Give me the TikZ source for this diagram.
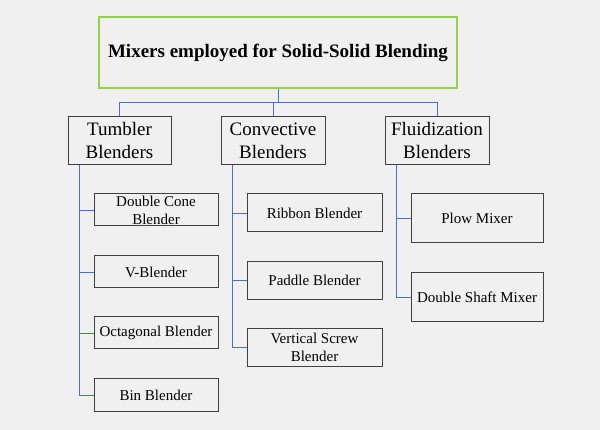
\documentclass[tikz,border=0pt]{standalone}
\usepackage{fontspec}
\setmainfont{Liberation Serif}
\usetikzlibrary{positioning}

\definecolor{paper}{HTML}{F0F0F0}
\definecolor{rootgreen}{HTML}{92D050}
\definecolor{linkblue}{HTML}{4472C4}
\definecolor{boxgray}{HTML}{404040}

\tikzset{
  rootbox/.style={draw=rootgreen, line width=1.6pt, minimum width=358pt,
    minimum height=71pt, font=\fontsize{19}{23}\selectfont\bfseries},
  groupbox/.style={draw=boxgray, line width=1pt, inner sep=0pt, align=center,
    minimum width=104pt, minimum height=48pt, font=\fontsize{19}{23}\selectfont},
  itembox/.style={draw=boxgray, line width=1pt, inner sep=0pt, align=center,
    font=\fontsize{15}{18}\selectfont},
  link/.style={draw=linkblue, line width=0.9pt},
}

\begin{document}
\begin{tikzpicture}[x=1pt,y=-1pt]
  \useasboundingbox[fill=paper] (0,0) rectangle (600,430);

  \node[rootbox] (root) at (278,52.5) {Mixers employed for Solid-Solid Blending};

  \node[groupbox, minimum width=103pt] (tumbler) at (119.5,141) {Tumbler\\Blenders};
  \node[groupbox] (convective) at (273,141) {Convective\\Blenders};
  \node[groupbox] (fluid) at (437,141) {Fluidization\\Blenders};

  \begin{scope}[every node/.style={itembox, minimum width=124pt, minimum height=32pt}]
    \node (dcone) at (156,210) {Double Cone\\Blender};
    \node (vblend) at (156,272) {V-Blender};
    \node (octa) at (156,333) {Octagonal Blender};
    \node (bin) at (156,395) {Bin Blender};
  \end{scope}

  \begin{scope}[every node/.style={itembox, minimum width=135pt, minimum height=38pt}]
    \node (ribbon) at (314.5,213) {Ribbon Blender};
    \node (paddle) at (314.5,280.5) {Paddle Blender};
    \node (vscrew) at (314.5,347.5) {Vertical Screw\\Blender};
  \end{scope}

  \begin{scope}[every node/.style={itembox, minimum width=132pt, minimum height=49pt}]
    \node (plow) at (477,218.5) {Plow Mixer};
    \node (dshaft) at (477,297.5) {Double Shaft Mixer};
  \end{scope}

  \coordinate (bus) at (278,102);
  \draw[link] (root.south) -- (bus);
  \foreach \g in {tumbler,convective,fluid}
    \draw[link] (bus) -| (\g.north);

  \coordinate (tspine) at (79,165);
  \coordinate (cspine) at (232,165);
  \coordinate (fspine) at (396,165);
  \foreach \c in {dcone,vblend,octa,bin}
    \draw[link] (tspine) |- (\c.west);
  \foreach \c in {ribbon,paddle,vscrew}
    \draw[link] (cspine) |- (\c.west);
  \foreach \c in {plow,dshaft}
    \draw[link] (fspine) |- (\c.west);
\end{tikzpicture}
\end{document}
